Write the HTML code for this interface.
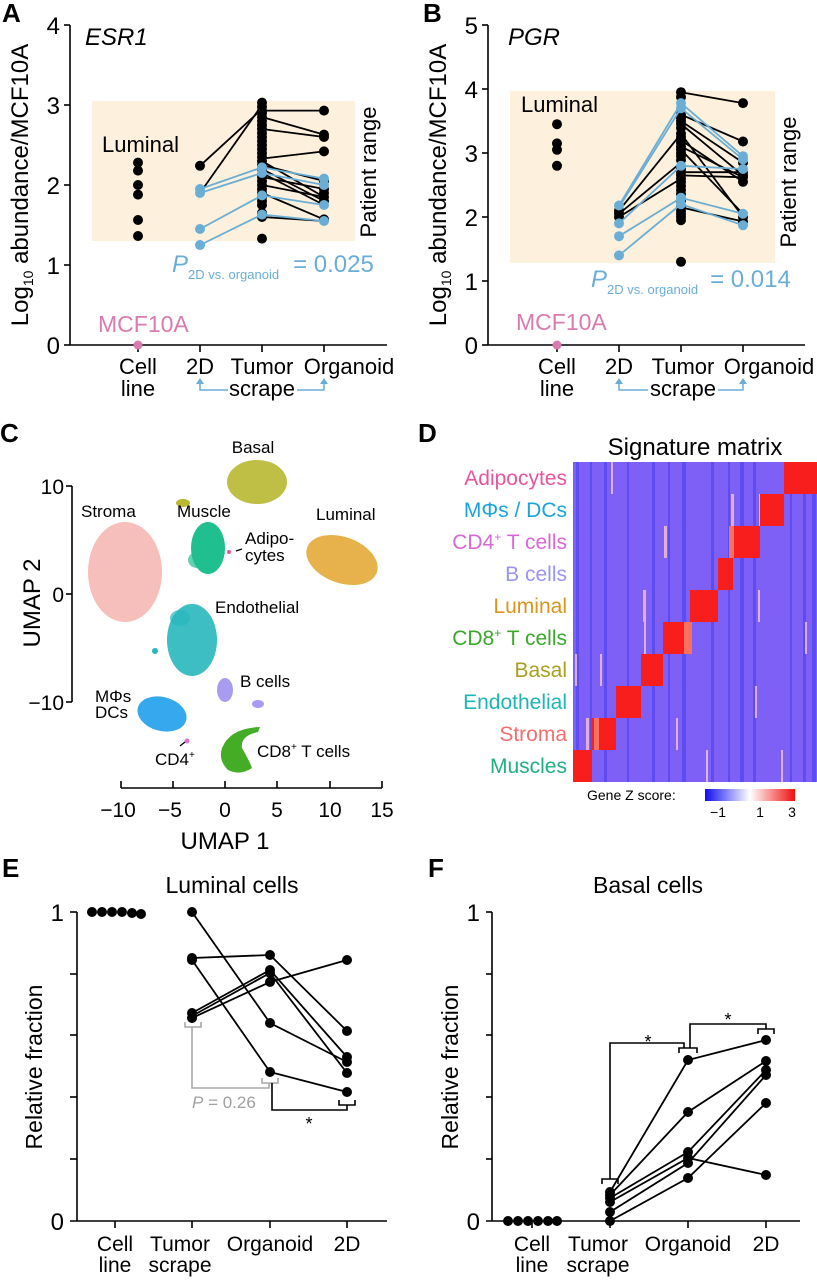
<!DOCTYPE html>
<html><head><meta charset="utf-8"><style>
html,body{margin:0;padding:0;background:#fff;}
svg{display:block;font-family:"Liberation Sans",Arial,sans-serif;}
</style></head><body>
<svg width="817" height="1280" viewBox="0 0 817 1280" xmlns="http://www.w3.org/2000/svg">
<!-- ========== PANEL A ========== -->
<text x="2" y="22" font-size="26" font-weight="bold">A</text>
<rect x="92" y="101" width="263" height="140" fill="#fdf0dc"/>
<g stroke="#000" stroke-width="1.6" fill="none">
<line x1="70" y1="25" x2="70" y2="345"/><line x1="70" y1="345" x2="387" y2="345"/>
<line x1="64" y1="25" x2="70" y2="25"/><line x1="64" y1="105" x2="70" y2="105"/><line x1="64" y1="185" x2="70" y2="185"/><line x1="64" y1="265" x2="70" y2="265"/><line x1="64" y1="345" x2="70" y2="345"/>
<line x1="138" y1="345" x2="138" y2="352"/><line x1="200" y1="345" x2="200" y2="352"/><line x1="262" y1="345" x2="262" y2="352"/><line x1="324" y1="345" x2="324" y2="352"/>
</g>
<g font-size="24" text-anchor="end"><text x="60" y="34">4</text><text x="60" y="114">3</text><text x="60" y="194">2</text><text x="60" y="274">1</text><text x="60" y="354">0</text></g>
<text transform="translate(28,185) rotate(-90)" font-size="24" text-anchor="middle">Log<tspan font-size="14" dy="5">10</tspan><tspan dy="-5"> abundance/MCF10A</tspan></text>
<text x="85" y="45" font-size="24" font-style="italic">ESR1</text>
<text x="102" y="152" font-size="22">Luminal</text>
<text transform="translate(376,172) rotate(-90)" font-size="22" text-anchor="middle">Patient range</text>
<g stroke="#000" stroke-width="1.8">
<line x1="200" y1="165.8" x2="262" y2="109"/><line x1="200" y1="193" x2="262" y2="105"/>
<line x1="262" y1="110.6" x2="324" y2="110.6"/><line x1="262" y1="117" x2="324" y2="134.6"/><line x1="262" y1="129" x2="324" y2="137"/><line x1="262" y1="158.6" x2="324" y2="151.4"/><line x1="262" y1="161" x2="324" y2="197"/><line x1="262" y1="169" x2="324" y2="201"/><line x1="262" y1="177" x2="324" y2="189"/><line x1="262" y1="185" x2="324" y2="197"/><line x1="262" y1="193" x2="324" y2="219.4"/><line x1="262" y1="217" x2="324" y2="221"/><line x1="262" y1="165" x2="324" y2="181"/><line x1="262" y1="173" x2="324" y2="205"/>
</g>
<g fill="#000">
<circle cx="138" cy="162.6" r="5"/><circle cx="138" cy="170.6" r="5"/><circle cx="138" cy="185" r="5"/><circle cx="138" cy="194.6" r="5"/><circle cx="138" cy="220" r="5"/><circle cx="138" cy="236" r="5"/>
<circle cx="200" cy="165.8" r="5"/>
<circle cx="262" cy="102.6" r="5"/><circle cx="262" cy="106.6" r="5"/><circle cx="262" cy="110.6" r="5"/><circle cx="262" cy="113" r="5"/><circle cx="262" cy="117" r="5"/><circle cx="262" cy="121" r="5"/><circle cx="262" cy="125" r="5"/><circle cx="262" cy="129" r="5"/><circle cx="262" cy="133" r="5"/><circle cx="262" cy="137" r="5"/><circle cx="262" cy="141" r="5"/><circle cx="262" cy="145" r="5"/><circle cx="262" cy="149" r="5"/><circle cx="262" cy="153" r="5"/><circle cx="262" cy="157" r="5"/><circle cx="262" cy="161" r="5"/><circle cx="262" cy="165" r="5"/><circle cx="262" cy="169" r="5"/><circle cx="262" cy="177" r="5"/><circle cx="262" cy="181" r="5"/><circle cx="262" cy="185" r="5"/><circle cx="262" cy="189" r="5"/><circle cx="262" cy="193" r="5"/><circle cx="262" cy="197" r="5"/><circle cx="262" cy="201" r="5"/><circle cx="262" cy="205" r="5"/><circle cx="262" cy="213" r="5"/><circle cx="262" cy="217" r="5"/><circle cx="262" cy="238.6" r="5"/>
<circle cx="324" cy="110.6" r="5"/><circle cx="324" cy="134.6" r="5"/><circle cx="324" cy="137" r="5"/><circle cx="324" cy="151.4" r="5"/><circle cx="324" cy="181" r="5"/><circle cx="324" cy="189" r="5"/><circle cx="324" cy="193" r="5"/><circle cx="324" cy="197" r="5"/><circle cx="324" cy="201" r="5"/><circle cx="324" cy="219.4" r="5"/>
</g>
<g stroke="#6aaed6" stroke-width="1.8" fill="none">
<polyline points="200,189 262,167.4 324,178.6"/><polyline points="200,193 262,173 324,185"/><polyline points="200,229 262,195.4 324,205"/><polyline points="200,245 262,214.6 324,221"/>
</g>
<g fill="#6aaed6">
<circle cx="200" cy="189" r="5"/><circle cx="200" cy="193" r="5"/><circle cx="200" cy="229" r="5"/><circle cx="200" cy="245" r="5"/>
<circle cx="262" cy="167.4" r="5"/><circle cx="262" cy="173" r="5"/><circle cx="262" cy="195.4" r="5"/><circle cx="262" cy="214.6" r="5"/>
<circle cx="324" cy="178.6" r="5"/><circle cx="324" cy="185" r="5"/><circle cx="324" cy="205" r="5"/><circle cx="324" cy="221" r="5"/>
</g>
<text x="172" y="272" font-size="24" fill="#6aaed6"><tspan font-style="italic">P</tspan><tspan font-size="13" dy="7">2D vs. organoid</tspan><tspan dy="-7" dx="14">= 0.025</tspan></text>
<text x="98" y="332" font-size="23" fill="#d97bb0">MCF10A</text>
<circle cx="138" cy="345" r="4.5" fill="#d97bb0"/>
<g font-size="22" text-anchor="middle">
<text x="138" y="374">Cell</text><text x="138" y="396">line</text>
<text x="200" y="374">2D</text><text x="262" y="374">Tumor</text><text x="262" y="396">scrape</text><text x="349" y="374">Organoid</text>
</g>
<g stroke="#6aaed6" stroke-width="1.5" fill="none">
<polyline points="200,381 200,390 228,390"/><polyline points="297,390 324,390 324,381"/>
</g>
<path d="M196,384 L200,378 L204,384Z M320,384 L324,378 L328,384Z" fill="#6aaed6"/>

<!-- ========== PANEL B ========== -->
<text x="423" y="22" font-size="26" font-weight="bold">B</text>
<rect x="510" y="91" width="265" height="172" fill="#fdf0dc"/>
<g stroke="#000" stroke-width="1.6" fill="none">
<line x1="488" y1="25" x2="488" y2="345"/><line x1="488" y1="345" x2="805" y2="345"/>
<line x1="482" y1="25" x2="488" y2="25"/><line x1="482" y1="89" x2="488" y2="89"/><line x1="482" y1="153" x2="488" y2="153"/><line x1="482" y1="217" x2="488" y2="217"/><line x1="482" y1="281" x2="488" y2="281"/><line x1="482" y1="345" x2="488" y2="345"/>
<line x1="557" y1="345" x2="557" y2="352"/><line x1="619" y1="345" x2="619" y2="352"/><line x1="681" y1="345" x2="681" y2="352"/><line x1="743" y1="345" x2="743" y2="352"/>
</g>
<g font-size="24" text-anchor="end"><text x="478" y="34">5</text><text x="478" y="98">4</text><text x="478" y="162">3</text><text x="478" y="226">2</text><text x="478" y="290">1</text><text x="478" y="354">0</text></g>
<text transform="translate(446,185) rotate(-90)" font-size="24" text-anchor="middle">Log<tspan font-size="14" dy="5">10</tspan><tspan dy="-5"> abundance/MCF10A</tspan></text>
<text x="508" y="45" font-size="24" font-style="italic">PGR</text>
<text x="521" y="112" font-size="22">Luminal</text>
<text transform="translate(796,182) rotate(-90)" font-size="22" text-anchor="middle">Patient range</text>
<g stroke="#000" stroke-width="1.8">
<line x1="619" y1="210.6" x2="681" y2="133.8"/><line x1="619" y1="213.8" x2="681" y2="162.6"/><line x1="619" y1="217" x2="681" y2="178.6"/>
<line x1="681" y1="92.2" x2="743" y2="103.1"/><line x1="681" y1="114.6" x2="743" y2="141.5"/><line x1="681" y1="121" x2="743" y2="162.6"/><line x1="681" y1="146.6" x2="743" y2="177.3"/><line x1="681" y1="133.8" x2="743" y2="217"/><line x1="681" y1="172.2" x2="743" y2="172.2"/><line x1="681" y1="175.4" x2="743" y2="177.3"/><line x1="681" y1="207.4" x2="743" y2="221.5"/><line x1="681" y1="140.2" x2="743" y2="181.8"/><line x1="681" y1="124" x2="743" y2="175.4"/><line x1="681" y1="149.8" x2="743" y2="213.8"/>
</g>
<g fill="#000">
<circle cx="557" cy="124.2" r="5"/><circle cx="557" cy="143.4" r="5"/><circle cx="557" cy="149.8" r="5"/><circle cx="557" cy="165.8" r="5"/>
<circle cx="619" cy="210.6" r="5"/><circle cx="619" cy="213.8" r="5"/><circle cx="619" cy="217" r="5"/>
<circle cx="681" cy="92.2" r="5"/><circle cx="681" cy="97" r="5"/><circle cx="681" cy="114.6" r="5"/><circle cx="681" cy="118" r="5"/><circle cx="681" cy="121" r="5"/><circle cx="681" cy="124" r="5"/><circle cx="681" cy="128" r="5"/><circle cx="681" cy="133.8" r="5"/><circle cx="681" cy="137" r="5"/><circle cx="681" cy="140.2" r="5"/><circle cx="681" cy="143" r="5"/><circle cx="681" cy="146.6" r="5"/><circle cx="681" cy="149.8" r="5"/><circle cx="681" cy="153" r="5"/><circle cx="681" cy="156" r="5"/><circle cx="681" cy="160" r="5"/><circle cx="681" cy="169" r="5"/><circle cx="681" cy="172.2" r="5"/><circle cx="681" cy="175.4" r="5"/><circle cx="681" cy="178.6" r="5"/><circle cx="681" cy="182" r="5"/><circle cx="681" cy="186" r="5"/><circle cx="681" cy="190" r="5"/><circle cx="681" cy="194" r="5"/><circle cx="681" cy="201" r="5"/><circle cx="681" cy="207.4" r="5"/><circle cx="681" cy="211" r="5"/><circle cx="681" cy="214" r="5"/><circle cx="681" cy="217" r="5"/><circle cx="681" cy="220.2" r="5"/><circle cx="681" cy="261.8" r="5"/>
<circle cx="743" cy="103.1" r="5"/><circle cx="743" cy="141.5" r="5"/><circle cx="743" cy="162.6" r="5"/><circle cx="743" cy="172.2" r="5"/><circle cx="743" cy="175.4" r="5"/><circle cx="743" cy="177.3" r="5"/><circle cx="743" cy="181.8" r="5"/><circle cx="743" cy="217" r="5"/><circle cx="743" cy="221.5" r="5"/>
</g>
<g stroke="#6aaed6" stroke-width="1.8" fill="none">
<polyline points="619,205.5 681,103.1 743,156.2"/><polyline points="619,207.4 681,108.2 743,159.4"/><polyline points="619,223.4 681,165.8 743,169"/><polyline points="619,236.2 681,197.8 743,213.8"/><polyline points="619,255.4 681,204.2 743,225.3"/>
</g>
<g fill="#6aaed6">
<circle cx="619" cy="205.5" r="5"/><circle cx="619" cy="223.4" r="5"/><circle cx="619" cy="236.2" r="5"/><circle cx="619" cy="255.4" r="5"/>
<circle cx="681" cy="103.1" r="5"/><circle cx="681" cy="108.2" r="5"/><circle cx="681" cy="165.8" r="5"/><circle cx="681" cy="197.8" r="5"/><circle cx="681" cy="204.2" r="5"/>
<circle cx="743" cy="156.2" r="5"/><circle cx="743" cy="159.4" r="5"/><circle cx="743" cy="169" r="5"/><circle cx="743" cy="213.8" r="5"/><circle cx="743" cy="225.3" r="5"/>
</g>
<text x="591" y="287" font-size="24" fill="#6aaed6"><tspan font-style="italic">P</tspan><tspan font-size="13" dy="7">2D vs. organoid</tspan><tspan dy="-7" dx="12">= 0.014</tspan></text>
<text x="516" y="330" font-size="23" fill="#d97bb0">MCF10A</text>
<circle cx="557" cy="345" r="4.5" fill="#d97bb0"/>
<g font-size="22" text-anchor="middle">
<text x="557" y="374">Cell</text><text x="557" y="396">line</text>
<text x="619" y="374">2D</text><text x="683" y="374">Tumor</text><text x="683" y="396">scrape</text><text x="769" y="374">Organoid</text>
</g>
<g stroke="#6aaed6" stroke-width="1.5" fill="none">
<polyline points="619,381 619,390 648,390"/><polyline points="718,390 743,390 743,381"/>
</g>
<path d="M615,384 L619,378 L623,384Z M739,384 L743,378 L747,384Z" fill="#6aaed6"/>

<!-- ========== PANEL C ========== -->
<text x="0" y="442" font-size="26" font-weight="bold">C</text>
<g>
<ellipse cx="125" cy="572" rx="37" ry="50" fill="#f4a9a4" opacity="0.75"/>
<ellipse cx="257" cy="482" rx="30" ry="22" fill="#b8b832" opacity="0.9"/>
<ellipse cx="183" cy="503" rx="7" ry="4" fill="#b8b832"/>
<ellipse cx="208" cy="548" rx="17" ry="26" fill="#1fbf8f"/>
<ellipse cx="197" cy="560" rx="9" ry="8" fill="#1fbf8f" opacity="0.7"/>
<ellipse cx="342" cy="560" rx="37" ry="23" fill="#e3a42c" opacity="0.85" transform="rotate(20 342 560)"/>
<ellipse cx="192" cy="640" rx="25" ry="36" fill="#27b7bd" opacity="0.9"/>
<ellipse cx="180" cy="618" rx="10" ry="8" fill="#27b7bd" opacity="0.7"/>
<circle cx="155" cy="651" r="3" fill="#27b7bd"/>
<ellipse cx="162" cy="714" rx="25" ry="17" fill="#36a9ee" transform="rotate(15 162 714)"/>
<ellipse cx="225" cy="690" rx="8" ry="12" fill="#a89cf0"/>
<ellipse cx="258" cy="704" rx="6" ry="4" fill="#a89cf0"/>
<path d="M222,748 Q230,728 260,727 L258,732 Q240,736 242,748 Q250,762 252,768 Q240,776 228,770 Q218,760 222,748Z" fill="#45ad25"/>
<circle cx="187" cy="741" r="2.5" fill="#e070d0"/>
<circle cx="229" cy="552" r="2" fill="#e8559e"/>
</g>
<g font-size="17">
<text x="253" y="453" text-anchor="middle">Basal</text>
<text x="81" y="517">Stroma</text>
<text x="177" y="517">Muscle</text>
<text x="316" y="520">Luminal</text>
<text x="245" y="544">Adipo-</text><text x="245" y="561">cytes</text>
<text x="215" y="613">Endothelial</text>
<text x="240" y="687">B cells</text>
<text x="95" y="702">MΦs</text><text x="95" y="718">DCs</text>
<text x="155" y="765">CD4<tspan font-size="10" dy="-7">+</tspan></text>
<text x="257" y="757">CD8<tspan font-size="10" dy="-7">+</tspan><tspan dy="7"> T cells</tspan></text>
</g>
<g stroke="#000" stroke-width="1.2"><line x1="236" y1="551" x2="242" y2="549"/><line x1="180" y1="746" x2="185" y2="742"/></g>
<g stroke="#000" stroke-width="1.6" fill="none">
<line x1="72" y1="486" x2="72" y2="702"/><line x1="66" y1="486" x2="72" y2="486"/><line x1="66" y1="594" x2="72" y2="594"/><line x1="66" y1="702" x2="72" y2="702"/>
<line x1="121" y1="788" x2="382" y2="788"/>
<line x1="121" y1="781" x2="121" y2="788"/><line x1="173" y1="781" x2="173" y2="788"/><line x1="225" y1="781" x2="225" y2="788"/><line x1="277" y1="781" x2="277" y2="788"/><line x1="330" y1="781" x2="330" y2="788"/><line x1="382" y1="781" x2="382" y2="788"/>
</g>
<g font-size="21" text-anchor="end"><text x="64" y="494">10</text><text x="64" y="602">0</text><text x="64" y="710">−10</text></g>
<g font-size="21" text-anchor="middle"><text x="118" y="817">−10</text><text x="170" y="817">−5</text><text x="225" y="817">0</text><text x="277" y="817">5</text><text x="330" y="817">10</text><text x="382" y="817">15</text></g>
<text x="225" y="849" font-size="24" text-anchor="middle">UMAP 1</text>
<text transform="translate(40,603) rotate(-90)" font-size="24" text-anchor="middle">UMAP 2</text>

<!-- ========== PANEL D ========== -->
<text x="418" y="442" font-size="26" font-weight="bold">D</text>
<text x="695" y="455" font-size="24" text-anchor="middle">Signature matrix</text>
<rect x="573" y="462" width="244" height="320" fill="#7f60f7"/>
<g fill="#5548f0" opacity="0.8">
<rect x="576" y="462" width="3" height="320"/><rect x="590" y="462" width="2" height="320"/><rect x="604" y="462" width="3" height="320"/><rect x="627" y="462" width="2" height="320"/><rect x="652" y="462" width="3" height="320"/><rect x="668" y="462" width="2" height="320"/><rect x="682" y="462" width="4" height="320"/><rect x="711" y="462" width="3" height="320"/><rect x="728" y="462" width="2" height="320"/><rect x="740" y="462" width="4" height="320"/><rect x="753" y="462" width="3" height="320"/><rect x="790" y="462" width="2" height="320"/><rect x="803" y="462" width="3" height="320"/><rect x="812" y="462" width="4" height="320"/>
</g>
<g fill="#f0c0d0" opacity="0.85">
<rect x="611" y="462" width="2" height="32"/><rect x="759" y="494" width="2" height="32"/><rect x="731" y="494" width="3" height="32"/><rect x="664" y="526" width="3" height="32"/><rect x="723" y="558" width="3" height="32"/><rect x="643" y="590" width="3" height="32"/><rect x="758" y="590" width="2" height="32"/><rect x="600" y="654" width="2" height="32"/><rect x="575" y="654" width="2" height="32"/><rect x="755" y="686" width="2" height="32"/><rect x="586" y="718" width="3" height="32"/><rect x="676" y="718" width="2" height="32"/><rect x="781" y="750" width="2" height="32"/><rect x="706" y="750" width="2" height="32"/><rect x="644" y="622" width="2" height="32"/><rect x="805" y="622" width="2" height="32"/>
</g>
<g fill="#f81e1e">
<rect x="784" y="462" width="33" height="32"/>
<rect x="760" y="494" width="24" height="32"/>
<rect x="733" y="526" width="27" height="32"/>
<rect x="718" y="558" width="15" height="32"/>
<rect x="690" y="590" width="28" height="32"/>
<rect x="663" y="622" width="27" height="32"/>
<rect x="641" y="654" width="22" height="32"/>
<rect x="616" y="686" width="25" height="32"/>
<rect x="592" y="718" width="24" height="32"/>
<rect x="573" y="750" width="19" height="32"/>
</g>
<g fill="#f87060"><rect x="729" y="526" width="5" height="32"/><rect x="684" y="622" width="8" height="32"/><rect x="594" y="718" width="5" height="32"/></g>
<g font-size="21" text-anchor="end">
<text x="567" y="485" fill="#e8559e">Adipocytes</text>
<text x="567" y="517" fill="#1aa3e0">MΦs / DCs</text>
<text x="567" y="549" fill="#d868d8">CD4<tspan font-size="12" dy="-8">+</tspan><tspan dy="8"> T cells</tspan></text>
<text x="567" y="581" fill="#9b95ee">B cells</text>
<text x="567" y="613" fill="#d8951a">Luminal</text>
<text x="567" y="645" fill="#3aa82a">CD8<tspan font-size="12" dy="-8">+</tspan><tspan dy="8"> T cells</tspan></text>
<text x="567" y="677" fill="#a8a020">Basal</text>
<text x="567" y="709" fill="#20b5b5">Endothelial</text>
<text x="567" y="741" fill="#f07070">Stroma</text>
<text x="567" y="773" fill="#20b080">Muscles</text>
</g>
<defs><linearGradient id="zg" x1="0" x2="1"><stop offset="0" stop-color="#1010f0"/><stop offset="0.5" stop-color="#ffffff"/><stop offset="1" stop-color="#f01010"/></linearGradient></defs>
<text x="587" y="800" font-size="14">Gene Z score:</text>
<rect x="705" y="789" width="90" height="12" fill="url(#zg)"/>
<g font-size="14" text-anchor="middle"><text x="718" y="817">−1</text><text x="760" y="817">1</text><text x="792" y="817">3</text></g>

<!-- ========== PANEL E ========== -->
<text x="2" y="877" font-size="26" font-weight="bold">E</text>
<text x="232" y="893" font-size="23" text-anchor="middle">Luminal cells</text>
<g stroke="#000" stroke-width="1.6" fill="none">
<line x1="77" y1="912" x2="77" y2="1221"/><line x1="70" y1="1221" x2="387" y2="1221"/>
<line x1="70" y1="912" x2="77" y2="912"/><line x1="70" y1="974" x2="77" y2="974"/><line x1="70" y1="1035" x2="77" y2="1035"/><line x1="70" y1="1097" x2="77" y2="1097"/><line x1="70" y1="1159" x2="77" y2="1159"/>
<line x1="115" y1="1221" x2="115" y2="1228"/><line x1="192" y1="1221" x2="192" y2="1228"/><line x1="270" y1="1221" x2="270" y2="1228"/><line x1="347" y1="1221" x2="347" y2="1228"/>
</g>
<g font-size="24" text-anchor="end"><text x="64" y="921">1</text><text x="64" y="1230">0</text></g>
<text transform="translate(42,1067) rotate(-90)" font-size="23" text-anchor="middle">Relative fraction</text>
<g stroke="#000" stroke-width="1.8" fill="none">
<polyline points="192,912 270,1023 347,1062"/>
<polyline points="192,958 270,955 347,1031"/>
<polyline points="192,960 270,1072 347,1092"/>
<polyline points="192,1013 270,970 347,1057"/>
<polyline points="192,1018 270,982 347,960"/>
<polyline points="192,1016 270,973 347,1073"/>
</g>
<g fill="#000">
<circle cx="92" cy="912" r="5"/><circle cx="102" cy="912" r="5"/><circle cx="112" cy="912" r="5"/><circle cx="122" cy="912" r="5"/><circle cx="132" cy="913" r="5"/><circle cx="141" cy="914" r="5"/>
<circle cx="192" cy="912" r="5"/><circle cx="192" cy="958" r="5"/><circle cx="192" cy="960" r="5"/><circle cx="192" cy="1013" r="5"/><circle cx="192" cy="1018" r="5"/>
<circle cx="270" cy="955" r="5"/><circle cx="270" cy="970" r="5"/><circle cx="270" cy="973" r="5"/><circle cx="270" cy="982" r="5"/><circle cx="270" cy="1023" r="5"/><circle cx="270" cy="1072" r="5"/>
<circle cx="347" cy="960" r="5"/><circle cx="347" cy="1031" r="5"/><circle cx="347" cy="1057" r="5"/><circle cx="347" cy="1062" r="5"/><circle cx="347" cy="1073" r="5"/><circle cx="347" cy="1092" r="5"/>
</g>
<g stroke="#a8a8a8" stroke-width="1.6" fill="none">
<polyline points="185,1022 185,1027 201,1027 201,1022"/>
<polyline points="192,1027 192,1088 269,1088 269,1083"/>
<polyline points="262,1078 262,1083 278,1083 278,1078"/>
</g>
<g stroke="#000" stroke-width="1.6" fill="none">
<polyline points="272,1083 272,1110 347,1110 347,1105"/>
<polyline points="339,1100 339,1105 355,1105 355,1100"/>
</g>
<text x="192" y="1108" font-size="17" fill="#a0a0a0"><tspan font-style="italic">P</tspan> = 0.26</text>
<text x="309" y="1130" font-size="18" text-anchor="middle">*</text>
<g font-size="21" text-anchor="middle">
<text x="115" y="1251">Cell</text><text x="115" y="1272">line</text>
<text x="180" y="1251">Tumor</text><text x="180" y="1272">scrape</text>
<text x="270" y="1251">Organoid</text><text x="347" y="1251">2D</text>
</g>

<!-- ========== PANEL F ========== -->
<text x="428" y="877" font-size="26" font-weight="bold">F</text>
<text x="648" y="893" font-size="23" text-anchor="middle">Basal cells</text>
<g stroke="#000" stroke-width="1.6" fill="none">
<line x1="492" y1="912" x2="492" y2="1221"/><line x1="486" y1="1221" x2="800" y2="1221"/>
<line x1="486" y1="912" x2="492" y2="912"/><line x1="486" y1="974" x2="492" y2="974"/><line x1="486" y1="1035" x2="492" y2="1035"/><line x1="486" y1="1097" x2="492" y2="1097"/><line x1="486" y1="1159" x2="492" y2="1159"/>
<line x1="532" y1="1221" x2="532" y2="1228"/><line x1="610" y1="1221" x2="610" y2="1228"/><line x1="688" y1="1221" x2="688" y2="1228"/><line x1="766" y1="1221" x2="766" y2="1228"/>
</g>
<g font-size="24" text-anchor="end"><text x="480" y="921">1</text><text x="480" y="1230">0</text></g>
<text transform="translate(458,1067) rotate(-90)" font-size="23" text-anchor="middle">Relative fraction</text>
<g stroke="#000" stroke-width="1.8" fill="none">
<polyline points="610,1192 688,1060 766,1040"/>
<polyline points="610,1195 688,1112 766,1061"/>
<polyline points="610,1198 688,1152 766,1070"/>
<polyline points="610,1202 688,1158 766,1175"/>
<polyline points="610,1212 688,1163 766,1075"/>
<polyline points="610,1221 688,1178 766,1103"/>
</g>
<g fill="#000">
<circle cx="508" cy="1221" r="5"/><circle cx="518" cy="1221" r="5"/><circle cx="528" cy="1221" r="5"/><circle cx="538" cy="1221" r="5"/><circle cx="548" cy="1221" r="5"/><circle cx="557" cy="1221" r="5"/>
<circle cx="610" cy="1192" r="5"/><circle cx="610" cy="1195" r="5"/><circle cx="610" cy="1198" r="5"/><circle cx="610" cy="1202" r="5"/><circle cx="610" cy="1212" r="5"/><circle cx="610" cy="1221" r="5"/>
<circle cx="688" cy="1060" r="5"/><circle cx="688" cy="1112" r="5"/><circle cx="688" cy="1152" r="5"/><circle cx="688" cy="1158" r="5"/><circle cx="688" cy="1163" r="5"/><circle cx="688" cy="1178" r="5"/>
<circle cx="766" cy="1040" r="5"/><circle cx="766" cy="1061" r="5"/><circle cx="766" cy="1070" r="5"/><circle cx="766" cy="1075" r="5"/><circle cx="766" cy="1103" r="5"/><circle cx="766" cy="1175" r="5"/>
</g>
<g stroke="#000" stroke-width="1.6" fill="none">
<polyline points="602,1184 602,1179 618,1179 618,1184"/>
<polyline points="610,1179 610,1043 684,1043 684,1048"/>
<polyline points="679,1053 679,1048 697,1048 697,1053"/>
<polyline points="690,1048 690,1024 766,1024 766,1029"/>
<polyline points="758,1034 758,1029 774,1029 774,1034"/>
</g>
<text x="648" y="1048" font-size="18" text-anchor="middle">*</text>
<text x="728" y="1026" font-size="18" text-anchor="middle">*</text>
<g font-size="21" text-anchor="middle">
<text x="532" y="1251">Cell</text><text x="532" y="1272">line</text>
<text x="598" y="1251">Tumor</text><text x="598" y="1272">scrape</text>
<text x="688" y="1251">Organoid</text><text x="766" y="1251">2D</text>
</g>
</svg>
</body></html>
